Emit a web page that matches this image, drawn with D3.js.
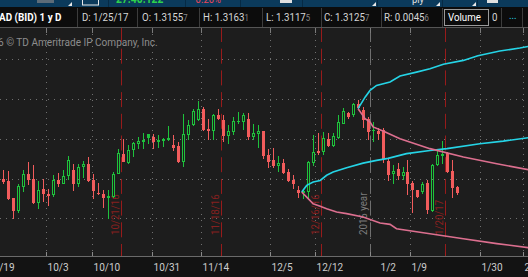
<!DOCTYPE html>
<html>
<head>
<meta charset="utf-8">
<script src="https://cdn.jsdelivr.net/npm/d3@7"></script>
<style>
  body { margin: 0; background: #1d1d1d; }
  svg { display: block; font-family: Roboto, "Noto Sans", sans-serif; }
</style>
</head>
<body>
<div id="chart"></div>
<script>
// USD/CAD daily bars (bid); last bar is 1/25/17
const opens = [1.3200,1.3188,1.3101,1.3037,1.3158,1.3225,1.3196,1.3077,1.3146,1.3121,
  1.3120,1.3191,1.3175,1.3215,1.3242,1.3175,1.3258,1.3276,1.3191,1.3130,
  1.3125,1.3102,1.3107,1.3225,1.3326,1.3280,1.3346,1.3376,1.3384,1.3423,
  1.3409,1.3384,1.3389,1.3396,1.3368,1.3362,1.3284,1.3421,1.3468,1.3493,
  1.3552,1.3448,1.3439,1.3518,1.3493,1.3414,1.3434,1.3485,1.3485,1.3498,
  1.3409,1.3426,1.3438,1.3317,1.3292,1.3263,1.3277,1.3233,1.3195,1.3145,
  1.3130,1.3133,1.3280,1.3337,1.3334,1.3401,1.3364,1.3406,1.3477,1.3530,
  1.3518,1.3574,1.3545,1.3501,1.3439,1.3439,1.3443,1.3289,1.3222,1.3250,
  1.3212,1.3233,1.3178,1.3141,1.3133,1.3178,1.3037,1.3267,1.3312,1.3329,
  1.3238,1.31557];
const highs = [1.3242,1.3237,1.3103,1.3175,1.3242,1.3284,1.3267,1.3186,1.3196,1.3146,
  1.3217,1.3230,1.3245,1.3312,1.3275,1.3272,1.3289,1.3309,1.3222,1.3180,
  1.3141,1.3141,1.3233,1.3351,1.3398,1.3371,1.3384,1.3409,1.3431,1.3424,
  1.3423,1.3421,1.3404,1.3465,1.3418,1.3384,1.3523,1.3493,1.3549,1.3589,
  1.3560,1.3502,1.3523,1.3552,1.3518,1.3468,1.3510,1.3535,1.3532,1.3530,
  1.3477,1.3468,1.3440,1.3351,1.3354,1.3312,1.3297,1.3250,1.3217,1.3161,
  1.3145,1.3289,1.3418,1.3431,1.3434,1.3431,1.3430,1.3518,1.3557,1.3535,
  1.3580,1.3597,1.3560,1.3508,1.3485,1.3457,1.3456,1.3301,1.3267,1.3279,
  1.3258,1.3292,1.3188,1.3145,1.3183,1.3191,1.3272,1.3342,1.3389,1.3334,
  1.3296,1.31631];
const lows = [1.3175,1.3094,1.2997,1.3027,1.3133,1.3166,1.3071,1.3049,1.3082,1.3062,
  1.3107,1.3158,1.3171,1.3191,1.3138,1.3158,1.3203,1.3183,1.3099,1.3116,
  1.3052,1.2999,1.3104,1.3224,1.3282,1.3275,1.3309,1.3351,1.3351,1.3376,
  1.3351,1.3356,1.3359,1.3388,1.3337,1.3280,1.3258,1.3396,1.3465,1.3492,
  1.3438,1.3393,1.3396,1.3493,1.3384,1.3376,1.3418,1.3477,1.3443,1.3396,
  1.3396,1.3356,1.3297,1.3255,1.3253,1.3233,1.3222,1.3183,1.3150,1.3104,
  1.3099,1.3100,1.3262,1.3317,1.3317,1.3359,1.3357,1.3401,1.3473,1.3502,
  1.3510,1.3552,1.3455,1.3395,1.3384,1.3396,1.3279,1.3188,1.3175,1.3195,
  1.3191,1.3116,1.3027,1.3105,1.3121,1.3024,1.3032,1.3262,1.3276,1.3230,
  1.3104,1.31175];
const closes = [1.3183,1.3096,1.3037,1.3163,1.3225,1.3191,1.3077,1.3145,1.3123,1.3112,
  1.3191,1.3171,1.3213,1.3296,1.3171,1.3260,1.3275,1.3188,1.3138,1.3121,
  1.3104,1.3111,1.3225,1.3331,1.3284,1.3346,1.3379,1.3388,1.3393,1.3404,
  1.3384,1.3393,1.3398,1.3404,1.3356,1.3284,1.3423,1.3468,1.3539,1.3552,
  1.3447,1.3439,1.3518,1.3498,1.3414,1.3438,1.3488,1.3489,1.3518,1.3409,
  1.3429,1.3438,1.3314,1.3284,1.3263,1.3278,1.3227,1.3188,1.3171,1.3130,
  1.3138,1.3284,1.3332,1.3330,1.3406,1.3364,1.3413,1.3485,1.3540,1.3510,
  1.3574,1.3555,1.3495,1.3434,1.3446,1.3426,1.3301,1.3217,1.3238,1.3212,
  1.3233,1.3175,1.3145,1.3107,1.3171,1.3041,1.3267,1.3317,1.3322,1.3233,
  1.3155,1.31257];

// price grid levels
const priceGrid = [1.30, 1.32, 1.34, 1.36, 1.38];

// x axis labels and the bar index they sit at
const tickLabels = ["9/19", "10/3", "10/10", "10/31", "11/14", "12/5", "12/12", "1/2", "1/9", "1/30", "2"];
const tickIdx = [-2.3, 8.6, 17.8, 29.7, 39.6, 53.4, 62.5, 73.5, 81.5, 95.5, 104.2];

// dated marker lines (bar index of the day)
const eventLabels = ["10/21/16", "11/18/16", "12/16/16", "1/20/17"];
const eventIdx = [23, 43, 63, 88];
const yearIdx = 73.5;
const yearLabel = "2016 year";

// expected move bands: [bar index, price]
const moveUpA = [[59.8,1.3133],[60.8,1.3166],[62.1,1.3183],[63.5,1.3191],[64.8,1.3217],[66.1,1.3233],
  [68.8,1.3255],[72.1,1.3278],[74.8,1.3292],[77.1,1.3302],[80.8,1.3326],[85.5,1.3342],
  [88.9,1.3351],[95.5,1.3376],[100.2,1.3389],[105.2,1.3406]];
const moveDnA = [[59.8,1.3133],[60.8,1.3107],[62.1,1.3074],[63.5,1.3061],[64.8,1.3049],[66.8,1.3032],
  [68.8,1.3024],[72.1,1.3007],[75.5,1.2977],[77.5,1.2970],[78.8,1.2948],[85.5,1.2923],
  [92.2,1.2898],[98.9,1.2873],[105.2,1.2853]];
const moveUpB = [[71.1,1.3552],[72.5,1.3610],[73.5,1.3644],[74.8,1.3669],[77.5,1.3686],[79.5,1.3716],
  [82.8,1.3736],[85.5,1.3753],[88.2,1.3776],[92.2,1.3795],[95.1,1.3818],[99.5,1.3842],
  [103.5,1.3857],[105.2,1.3865]];
const moveDnB = [[71.1,1.3552],[72.5,1.3502],[73.5,1.3485],[74.1,1.3460],[76.2,1.3438],[79.5,1.3401],
  [85.5,1.3351],[92.2,1.3309],[98.9,1.3275],[105.2,1.3245]];

const W = 528, H = 277;
const plotTop = 28, plotBottom = 256;
const green = "#1ec23c", red = "#f25c5c";
const cyan = "#25d4e6", pink = "#dc6f8f";

const svg = d3.select("#chart").append("svg").attr("width", W).attr("height", H);

const x = d3.scaleLinear().domain([0, opens.length - 1]).range([3.3, 457.4]);
const y = d3.scaleLinear().domain([1.30, 1.38]).range([218.4, 59.4]);
const crisp = v => Math.round(v) + 0.5;

// text squeezed horizontally, the platform font is narrow
function txt(parent, s, tx, ty, size, fill, extra) {
  return parent.append("text")
    .attr("transform", `translate(${tx},${ty}) ${extra || ""} scale(0.86,1)`)
    .attr("font-size", size).attr("fill", fill).text(s);
}

// backgrounds
svg.append("rect").attr("width", W).attr("height", H).attr("fill", "#1d1d1d");

// grid
const grid = svg.append("g");
grid.selectAll(".hg").data(priceGrid).join("line")
  .attr("x1", 0).attr("x2", W)
  .attr("y1", d => crisp(y(d))).attr("y2", d => crisp(y(d)))
  .attr("stroke", "#707070").attr("stroke-dasharray", "1,5");
grid.selectAll(".vg").data(tickIdx.filter(t => t > 0)).join("line")
  .attr("x1", d => crisp(x(d))).attr("x2", d => crisp(x(d)))
  .attr("y1", plotTop + 6).attr("y2", plotBottom)
  .attr("stroke", "#707070").attr("stroke-dasharray", "1,5");

// copyright note
txt(svg, "6 © TD Ameritrade IP Company, Inc.", -2, 45.5, 11.7, "#8d8d8d");

// marker lines and their rotated labels
const marks = svg.append("g");
eventIdx.forEach((d, k) => {
  const lx = crisp(x(d + 0.6));
  marks.append("line").attr("x1", lx).attr("x2", lx).attr("y1", 27).attr("y2", plotBottom)
    .attr("stroke", "#971b1b").attr("stroke-dasharray", "15,6.7");
  txt(marks, eventLabels[k], lx - 3, 235, 11.3, "#86201f", "rotate(-90)");
});
const yx = crisp(x(yearIdx));
marks.append("line").attr("x1", yx).attr("x2", yx).attr("y1", 27).attr("y2", plotBottom)
  .attr("stroke", "#6f6f6f").attr("stroke-dasharray", "15,6.7");
txt(marks, yearLabel, yx - 4, 235, 11.3, "#7c7c7c", "rotate(-90)");

// candles: colour against previous close, hollow when close above open
const bars = opens.map((o, i) => {
  const c = closes[i], prev = i ? closes[i - 1] : o;
  return { i, o, h: highs[i], l: lows[i], c, up: c >= prev, hollow: c > o };
});
svg.append("g").selectAll("g").data(bars).join("g").each(function (d) {
  const g = d3.select(this);
  const cx = Math.round(x(d.i));
  const col = d.up ? green : red;
  const top = Math.round(y(Math.max(d.o, d.c)));
  const bot = Math.max(top + 1, Math.round(y(Math.min(d.o, d.c))));
  const hi = Math.round(y(d.h)), lo = Math.round(y(d.l));
  if (hi < top) g.append("line").attr("x1", cx + 0.5).attr("x2", cx + 0.5)
    .attr("y1", hi).attr("y2", top).attr("stroke", col);
  if (lo > bot) g.append("line").attr("x1", cx + 0.5).attr("x2", cx + 0.5)
    .attr("y1", bot).attr("y2", lo).attr("stroke", col);
  if (d.hollow && bot - top > 2) {
    g.append("rect").attr("x", cx - 0.5).attr("y", top + 0.5)
      .attr("width", 2).attr("height", bot - top - 1)
      .attr("fill", "none").attr("stroke", col);
  } else {
    g.append("rect").attr("x", cx - 1).attr("y", top)
      .attr("width", 3).attr("height", bot - top).attr("fill", col);
  }
});

// expected move lines
const line = d3.line().x(d => x(d[0])).y(d => y(d[1]));
[[moveUpA, cyan], [moveDnA, pink], [moveUpB, cyan], [moveDnB, pink]].forEach(([pts, col]) => {
  svg.append("path").attr("d", line(pts)).attr("fill", "none")
    .attr("stroke", col).attr("stroke-width", 1.6);
});

// x axis strip
svg.append("rect").attr("x", 0).attr("y", plotBottom).attr("width", W).attr("height", H - plotBottom)
  .attr("fill", "#131313");
svg.append("line").attr("x1", 0).attr("x2", W).attr("y1", plotBottom + 0.5).attr("y2", plotBottom + 0.5)
  .attr("stroke", "#6a6a6a");
const axis = svg.append("g");
tickIdx.forEach((t, k) => {
  const tx = crisp(x(t));
  axis.append("line").attr("x1", tx).attr("x2", tx).attr("y1", plotBottom - 4).attr("y2", plotBottom)
    .attr("stroke", "#8a8a8a");
  const dx = tickLabels[k] === "1/2" ? 10 : 1;
  txt(axis, tickLabels[k], tx + dx, 270.5, 11.7, "#cdcdcd");
});
eventIdx.forEach(d => {
  const lx = crisp(x(d + 0.6));
  axis.append("line").attr("x1", lx).attr("x2", lx).attr("y1", plotBottom - 4).attr("y2", plotBottom)
    .attr("stroke", "#a01c1c");
});

// header with the last bar's values
const last = opens.length - 1;
const f5 = d3.format(".5f");
const head = svg.append("g");
head.append("rect").attr("width", W).attr("height", 28).attr("fill", "#0c0c0c");
head.append("line").attr("x1", 0).attr("x2", W).attr("y1", 27.5).attr("y2", 27.5).attr("stroke", "#555");
tickIdx.forEach(t => {
  const tx = crisp(x(t));
  head.append("line").attr("x1", tx).attr("x2", tx).attr("y1", 28).attr("y2", 33).attr("stroke", "#7a7a7a");
});
const cellEdges = [77, 137, 199, 262, 321, 381, 442, 501, 522];
cellEdges.forEach(e => head.append("line").attr("x1", e + 0.5).attr("x2", e + 0.5)
  .attr("y1", 8).attr("y2", 27).attr("stroke", "#3c3c3c"));
head.append("rect").attr("x", 444.5).attr("y", 9.5).attr("width", 44).attr("height", 16)
  .attr("fill", "none").attr("stroke", "#9a9a9a");

const quotes = [
  ["O: ", opens[last], 142], ["H: ", highs[last], 203], ["L: ", lows[last], 266],
  ["C: ", closes[last], 324], ["R: ", highs[last] - lows[last], 384]
];
txt(head, "AD (BID) 1 y D", -1, 21, 11.5, "#ffffff").attr("font-weight", "bold");
txt(head, "D: 1/25/17", 82, 21, 11.3, "#d6d6d6");
quotes.forEach(([k, v, tx]) => {
  const s = f5(v);
  const t = txt(head, k + s.slice(0, -1), tx, 21, 11.3, "#d6d6d6");
  t.append("tspan").attr("font-size", 9).attr("fill", "#8a8a8a").text(s.slice(-1));
});
txt(head, "Volume", 448, 21, 11.3, "#ffffff");
txt(head, "0", 492, 21, 11.3, "#d6d6d6");
txt(head, "...", 509, 19, 11.3, "#25d4e6");

// toolbar strip at the very top (cut off by the crop)
const bar = svg.append("g");
bar.append("rect").attr("width", W).attr("height", 7).attr("fill", "#0b3a5b");
[108, 185, 240, 302, 377, 442, 477].forEach(e => bar.append("line")
  .attr("x1", e + 0.5).attr("x2", e + 0.5).attr("y1", 0).attr("y2", 7).attr("stroke", "#062a44"));
bar.append("rect").attr("x", 37).attr("y", 0).attr("width", 17).attr("height", 3).attr("fill", "#5d6c78");
bar.append("rect").attr("x", 82.5).attr("y", -2).attr("width", 16).attr("height", 7)
  .attr("fill", "none").attr("stroke", "#e8e8e8");
bar.append("rect").attr("x", 280).attr("y", 0).attr("width", 12).attr("height", 3).attr("fill", "#e0e0e0");
bar.append("rect").attr("x", 487).attr("y", 0).attr("width", 11).attr("height", 3).attr("fill", "#e0e0e0");
[72, 376, 440, 476].forEach(e => bar.append("path")
  .attr("d", `M${e},2 L${e},6 L${e - 4},6 Z`).attr("fill", "#e8e8e8"));
txt(bar, "27.40.122", 116, 2.5, 12, "#2ed24c").attr("font-weight", "bold");
txt(bar, "-0.20%", 193, 2.5, 11, "#e8475a");
txt(bar, "ply", 412, 2.5, 11, "#e0e0e0");
</script>
</body>
</html>
